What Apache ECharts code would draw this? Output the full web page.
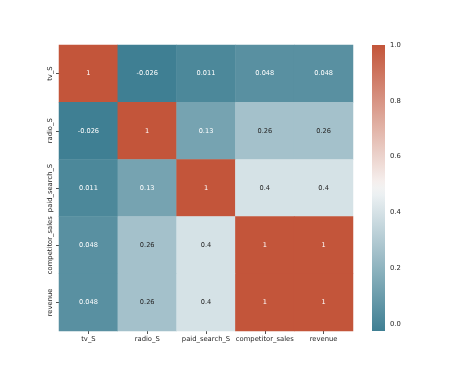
<!DOCTYPE html>
<html>
<head>
<meta charset="utf-8">
<script src="https://cdn.jsdelivr.net/npm/echarts@6/dist/echarts.min.js"></script>
<style>html,body{margin:0;padding:0;background:#fff;}#c{width:474px;height:379px;}</style>
</head>
<body>
<div id="c"></div>
<script>
const categories = ['tv_S', 'radio_S', 'paid_search_S', 'competitor_sales', 'revenue'];
const matrix = [
  [1, -0.026, 0.011, 0.048, 0.048],
  [-0.026, 1, 0.13, 0.26, 0.26],
  [0.011, 0.13, 1, 0.4, 0.4],
  [0.048, 0.26, 0.4, 1, 1],
  [0.048, 0.26, 0.4, 1, 1]
];
const colorbarTicks = [0, 0.2, 0.4, 0.6, 0.8, 1.0];
const vMin = -0.026, vMax = 1;

const FONT = 'DejaVu Sans';

// diverging palette (blue -> light -> red), linear in RGB on each half
function hex2rgb(h) { return [1, 3, 5].map(i => parseInt(h.substr(i, 2), 16)); }
function rgb2hex(a) { return '#' + a.map(x => Math.round(x).toString(16).padStart(2, '0')).join(''); }
function ramp(a, b, n) {
  const A = hex2rgb(a), B = hex2rgb(b), out = [];
  for (let i = 0; i < n; i++) { const t = i / (n - 1); out.push(rgb2hex(A.map((x, k) => x + (B[k] - x) * t))); }
  return out;
}
const palette = ramp('#3f7f93', '#ebf0f2', 20).concat(['#f2f2f2']).concat(ramp('#f5eeec', '#c3553a', 20));

const data = [];
for (let r = 0; r < categories.length; r++) {
  for (let c = 0; c < categories.length; c++) {
    const v = matrix[r][c];
    const light = v < 0.2 || v > 0.8;
    data.push({ value: [c, r, v], label: { color: light ? '#ffffff' : '#262626' } });
  }
}

const chart = echarts.init(document.getElementById('c'), null, { renderer: 'canvas' });
chart.setOption({
  backgroundColor: '#ffffff',
  animation: false,
  grid: [
    { left: 59, right: 121, top: 45, bottom: 48 },
    { left: 372, width: 13, top: 45, bottom: 48 }
  ],
  xAxis: [
    {
      type: 'category', data: categories, gridIndex: 0,
      axisLine: { show: false },
      axisTick: { show: true, alignWithLabel: true, length: 3, lineStyle: { color: '#262626', width: 0.8 } },
      axisLabel: { interval: 0, fontFamily: FONT, fontSize: 6.8, color: '#262626', margin: 5 },
      splitLine: { show: false }
    },
    { type: 'value', gridIndex: 1, min: 0, max: 1, show: false }
  ],
  yAxis: [
    {
      type: 'category', data: categories, gridIndex: 0, inverse: true,
      axisLine: { show: false },
      axisTick: { show: true, alignWithLabel: true, length: 3, lineStyle: { color: '#262626', width: 0.8 } },
      axisLabel: { interval: 0, fontFamily: FONT, fontSize: 6.8, color: '#262626', rotate: 90, margin: 5 },
      splitLine: { show: false }
    },
    {
      type: 'value', gridIndex: 1, min: vMin, max: vMax, position: 'right',
      axisLine: { show: false },
      splitLine: { show: false },
      axisTick: { show: true, length: 3, customValues: colorbarTicks, lineStyle: { color: '#262626', width: 0.8 } },
      axisLabel: {
        show: true, customValues: colorbarTicks, fontFamily: FONT, fontSize: 6.8, color: '#262626', margin: 5,
        formatter: v => Number(v).toFixed(1)
      }
    }
  ],
  visualMap: {
    show: false, type: 'continuous', min: vMin, max: vMax, seriesIndex: 0, dimension: 2,
    inRange: { color: palette }
  },
  series: [
    {
      type: 'heatmap', xAxisIndex: 0, yAxisIndex: 0, data: data,
      label: { show: true, fontFamily: FONT, fontSize: 6.6, formatter: p => String(p.value[2]) },
      itemStyle: { borderWidth: 0 },
      emphasis: { disabled: true }
    },
    {
      type: 'custom', xAxisIndex: 1, yAxisIndex: 1,
      data: [[0, vMin, 1, vMax]],
      renderItem: function (params, api) {
        const p0 = api.coord([api.value(0), api.value(1)]);
        const p1 = api.coord([api.value(2), api.value(3)]);
        const stops = palette.slice().reverse().map((c, i, a) => ({ offset: i / (a.length - 1), color: c }));
        return {
          type: 'rect',
          shape: { x: p0[0], y: p1[1], width: p1[0] - p0[0], height: p0[1] - p1[1] },
          style: { fill: new echarts.graphic.LinearGradient(0, 0, 0, 1, stops) }
        };
      }
    }
  ]
});
</script>
</body>
</html>
